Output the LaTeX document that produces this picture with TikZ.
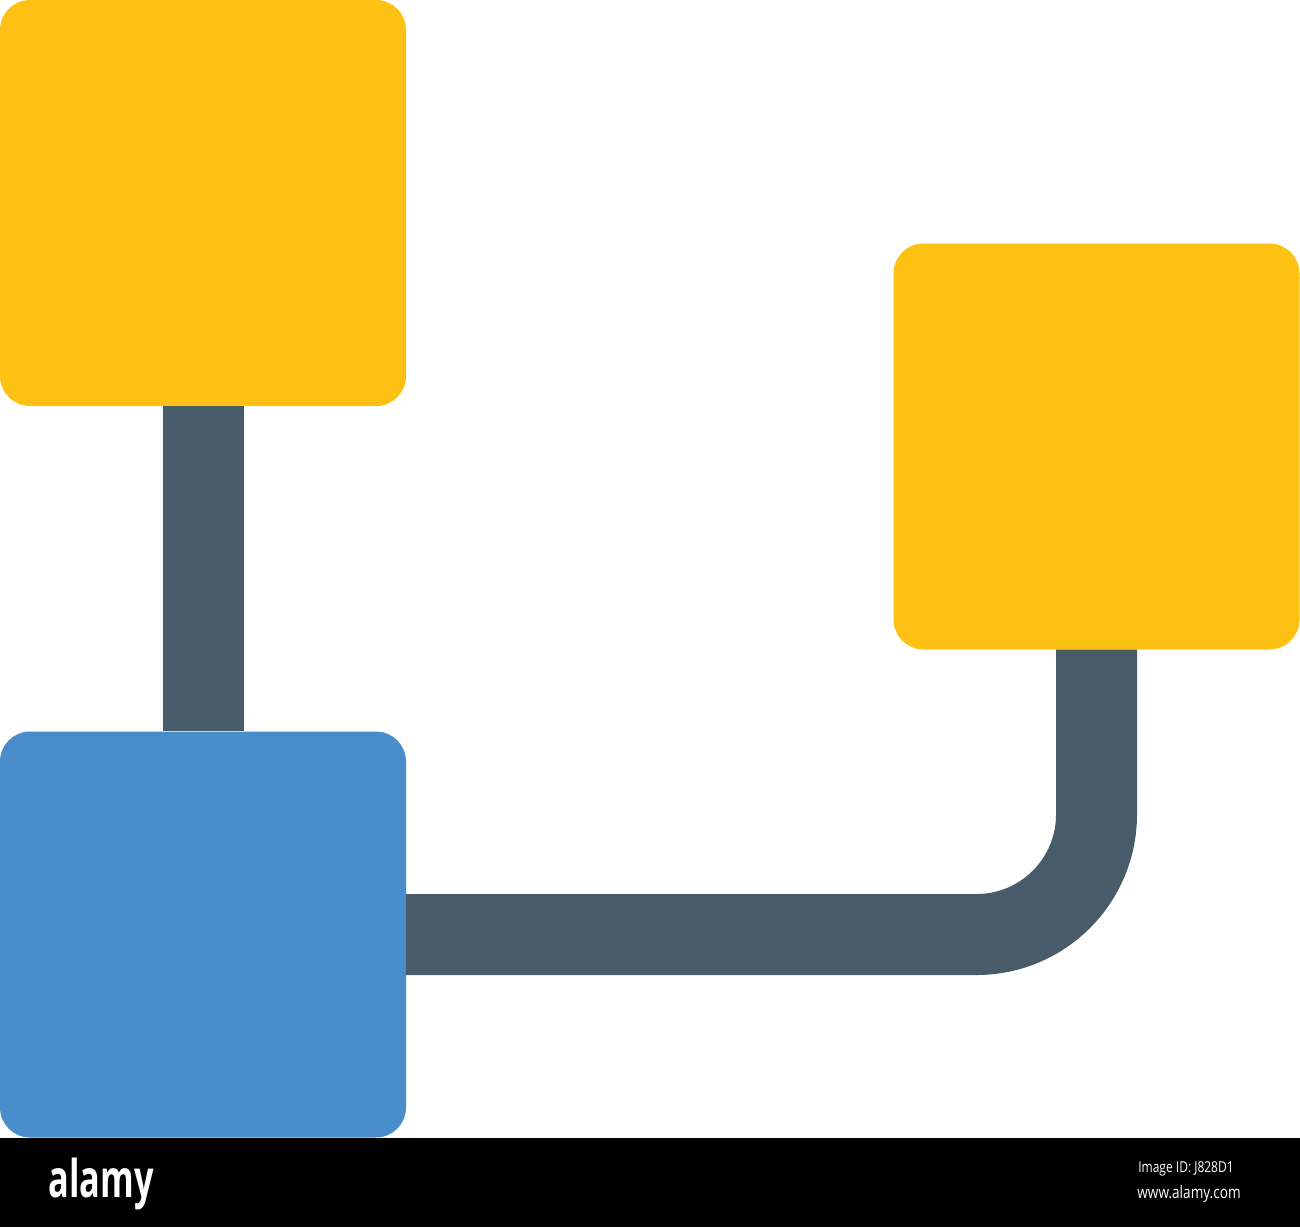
\documentclass[tikz,border=0pt]{standalone}
\usepackage{fontspec}
\setmainfont{Open Sans}
\definecolor{boxyellow}{HTML}{FDC113}
\definecolor{boxblue}{HTML}{498DCB}
\definecolor{linkgrey}{HTML}{475C68}
\tikzset{
  tile/.style={rounded corners=30pt, minimum width=406pt, minimum height=406pt, inner sep=0pt, draw=none},
  link/.style={draw=linkgrey, line width=81pt, line cap=butt},
  bartext/.style={text=white, inner sep=0pt}
}
\begin{document}
\begin{tikzpicture}[x=1pt,y=-1pt]
\useasboundingbox (0,0) rectangle (1300,1227);
\fill[white] (0,0) rectangle (1300,1227);
\node[tile, fill=boxyellow] (top) at (203,203) {};
\node[tile, fill=boxyellow] (right) at (1096.5,446.5) {};
\node[tile, fill=boxblue] (base) at (203,934.5) {};
\draw[link] (top.south) -- (base.north);
\draw[link, rounded corners=120pt] (base.east) -| (right.south);
\fill[black] (0,1138) rectangle (1300,1227);
\node[bartext, font=\bfseries\fontsize{52}{52}\selectfont, xscale=0.66] (logo) at (101,1184) {alamy};
\node[bartext, font=\fontsize{15}{15}\selectfont, xscale=0.8] (imgid) at (1186,1169) {Image ID: J828D1};
\node[bartext, font=\fontsize{17}{17}\selectfont, xscale=0.8] (site) at (1189,1194) {www.alamy.com};
\end{tikzpicture}
\end{document}
